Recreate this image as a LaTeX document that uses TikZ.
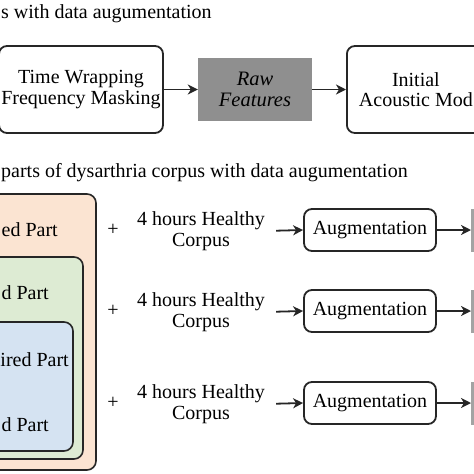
\documentclass[tikz,border=0pt]{standalone}
\usepackage{fontspec}
\setmainfont{LiberationSerif}[Extension=.ttf,UprightFont=*-Regular,ItalicFont=*-Italic,BoldFont=*-Bold]
\usetikzlibrary{arrows.meta}
\definecolor{peach}{HTML}{FBE4D2}
\definecolor{mint}{HTML}{DDEBD3}
\definecolor{sky}{HTML}{D5E3F2}
\definecolor{edge}{HTML}{262626}

\begin{document}
\begin{tikzpicture}
  [x=1pt,y=-1pt,
    every node/.style={font=\rmfamily\fontsize{20}{20.5}\selectfont,inner sep=0pt},
    box/.style={draw=edge,line width=1.8pt,rounded corners=8pt,align=center},
    rawbox/.style={fill=black!44,align=center,font=\rmfamily\fontsize{20.5}{20.5}\selectfont\itshape},
    part/.style={draw=edge,line width=1.6pt,rounded corners=9pt},
    endbar/.style={fill=black!36,minimum width=30pt,minimum height=43pt,anchor=west},
    arr/.style={-{Stealth[length=10pt,width=10pt,inset=3pt]},line width=1.8pt,edge},
  ]
  \useasboundingbox (0,0) rectangle (474,474);
  \clip (0,0) rectangle (474,474);

  \node[anchor=base west] (title1) at (1,18) {s with data augumentation};
  \node[box,minimum width=164pt,minimum height=87pt] (warp) at (81,89.5)
    {Time Wrapping\\Frequency Masking};
  \node[rawbox,minimum width=114pt,minimum height=63pt] (raw) at (255,89.5)
    {Raw\\Features};
  \node[box,minimum width=138pt,minimum height=87pt,anchor=west] (init) at (346,89.5)
    {Initial\\Acoustic Mod};
  \draw[arr] (warp.east) -- (raw.west);
  \draw[arr] (raw.east) -- (init.west);

  \node[anchor=base west] (title2) at (1,177) {parts of dysarthria corpus with data augumentation};

  \node[part,fill=peach,minimum width=126pt,minimum height=276pt] (outer) at (33,332) {};
  \node[part,fill=mint,minimum width=113pt,minimum height=202pt] (middle) at (26.5,358) {};
  \node[part,fill=sky,minimum width=103pt,minimum height=129pt] (inner) at (21.5,386.5) {};
  \node[anchor=east] (p1) at (58,230) {ed Part};
  \node[anchor=east] (p2) at (49,293) {d Part};
  \node[anchor=east] (p3) at (69,360) {ired Part};
  \node[anchor=east] (p4) at (49,425) {d Part};

  \foreach \y/\i in {230/1,311/2,403/3}{
    \node (plus\i) at (113,\y) {+};
    \node[align=center] (healthy\i) at (201,\y+1) {4 hours Healthy\\Corpus};
    \node[box,minimum width=132pt,minimum height=42pt] (aug\i) at (370,\y) {Augmentation};
    \node[endbar] (model\i) at (471,\y) {};
    \draw[arr,shorten <=11pt] (healthy\i.east) -- (aug\i.west);
    \draw[arr] (aug\i.east) -- (model\i.west);
  }
\end{tikzpicture}
\end{document}
